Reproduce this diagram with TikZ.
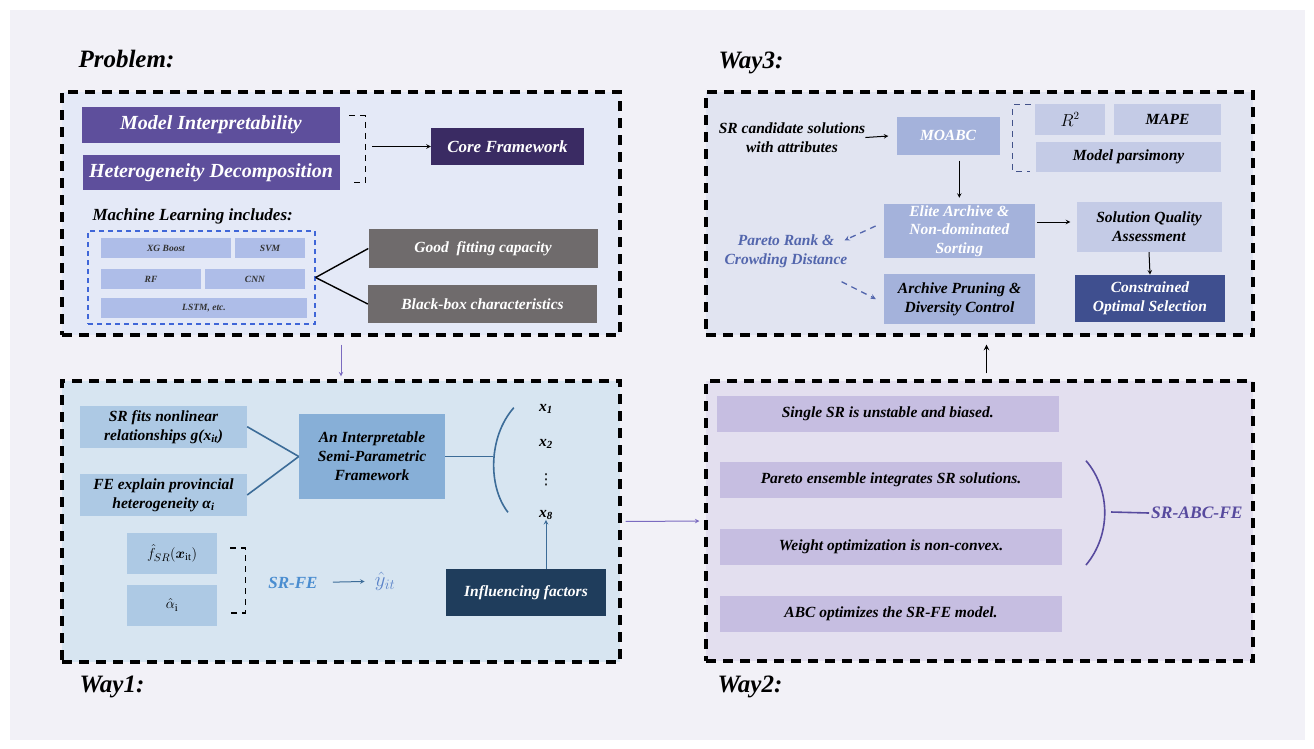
\documentclass[tikz,border=0pt]{standalone}
\usepackage{amsmath}
\usepackage{fontspec}
\setmainfont{Liberation Serif}
\newfontfamily\dotsfont{DejaVu Sans}
\usepackage{tikz}
\usetikzlibrary{arrows}

\definecolor{bgcol}{HTML}{F2F1F7}
\definecolor{probfill}{HTML}{E4E9F7}
\definecolor{wayonefill}{HTML}{D7E5F1}
\definecolor{waytwofill}{HTML}{E3DFEF}
\definecolor{waythreefill}{HTML}{E1E4F1}
\definecolor{purpleA}{HTML}{5E4F9C}
\definecolor{purpleB}{HTML}{3A2B63}
\definecolor{mlblue}{HTML}{AEBDE8}
\definecolor{mldash}{HTML}{3F66D8}
\definecolor{greybox}{HTML}{6F6B6C}
\definecolor{paleblue}{HTML}{ADC9E4}
\definecolor{midblue}{HTML}{87AFD7}
\definecolor{navy}{HTML}{1F3D5C}
\definecolor{steel}{HTML}{3C6C98}
\definecolor{srfeblue}{HTML}{4A8DD0}
\definecolor{yhatblue}{HTML}{5A82C8}
\definecolor{lilac}{HTML}{C6BEE1}
\definecolor{violet}{HTML}{574A9E}
\definecolor{periA}{HTML}{A4B2DB}
\definecolor{periB}{HTML}{C4CBE6}
\definecolor{periC}{HTML}{3F4F8F}
\definecolor{paretoblue}{HTML}{5366AD}
\definecolor{flowpurple}{HTML}{7B6BC0}

\tikzstyle{panel} = [draw=black, line width=3.2pt, dash pattern=on 10pt off 7pt, inner sep=0pt]
\tikzstyle{heading} = [anchor=base west, font=\fontsize{25}{28}\selectfont\bfseries\itshape]
\tikzstyle{box} = [rectangle, inner sep=0pt, align=center, font=\fontsize{15.5}{19}\selectfont\bfseries\itshape]
\tikzstyle{bigbox} = [box, fill=purpleA, text=white, font=\fontsize{20}{22}\selectfont\bfseries\itshape]
\tikzstyle{corebox} = [box, fill=purpleB, text=white, font=\fontsize{17}{20}\selectfont\bfseries\itshape]
\tikzstyle{mlbox} = [box, fill=mlblue, text=black!80, minimum height=20, font=\fontsize{9.5}{10}\selectfont\bfseries\itshape]
\tikzstyle{greyb} = [box, fill=greybox, text=white]
\tikzstyle{pale} = [box, fill=paleblue]
\tikzstyle{lilacbox} = [box, fill=lilac]
\tikzstyle{periwhite} = [box, fill=periA, text=white]
\tikzstyle{peri} = [box, fill=periB]
\tikzstyle{arrow} = [line width=1pt,->,>=stealth]
\tikzstyle{bkt} = [line width=1.1pt, dash pattern=on 6pt off 5pt]
\tikzstyle{dasharrow} = [line width=1.3pt,->,>=stealth, dash pattern=on 6pt off 5pt, paretoblue]

\begin{document}
\begin{tikzpicture}[x=1pt,y=-1pt]
\useasboundingbox (0,0) rectangle (1314,748);
\fill[bgcol] (10,10) rectangle (1305,740);

% panels
\node (prob) [panel, fill=probfill, minimum width=558, minimum height=243] at (341,213.5) {};
\node (wayone) [panel, fill=wayonefill, minimum width=558, minimum height=281] at (341,521.5) {};
\node (waytwo) [panel, fill=waytwofill, minimum width=547, minimum height=280] at (979.5,521) {};
\node (waythree) [panel, fill=waythreefill, minimum width=547, minimum height=243] at (979.5,213.5) {};

\node (tprob) [heading] at (75,67) {Problem:};
\node (tone) [heading] at (76,692) {Way1:};
\node (ttwo) [heading] at (714,692) {Way2:};
\node (tthree) [heading] at (715,68) {Way3:};

% Problem
\node (interp) [bigbox, minimum width=258, minimum height=36] at (211,125) {Model Interpretability};
\node (hetero) [bigbox, minimum width=257, minimum height=35] at (211,172.5) {Heterogeneity Decomposition};
\node (core) [corebox, minimum width=153, minimum height=37] at (507.5,146.5) {Core Framework};
\draw[bkt] ([shift={(9,9)}]interp.north east) -- ++(16,0) |- ([shift={(9,-8)}]hetero.south east);
\coordinate (coreout) at (372,146.5);
\draw[arrow] (coreout) -- (core.west);

\node (mlhead) [anchor=base west, font=\fontsize{17}{20}\selectfont\bfseries\itshape] at (89,220) {Machine Learning includes:};
\node (ml) [draw=mldash, line width=1.2pt, dash pattern=on 5pt off 4pt, minimum width=227, minimum height=93] at (201.5,277.5) {};
\node (xgb) [mlbox, minimum width=130] at (166,248) {XG Boost};
\node (svm) [mlbox, minimum width=70] at (270,248) {SVM};
\node (rf) [mlbox, minimum width=100] at (151,279) {RF};
\node (cnn) [mlbox, minimum width=100] at (255,279) {CNN};
\node (lstm) [mlbox, minimum width=206] at (204,308) {LSTM, etc.};
\node (good) [greyb, minimum width=229, minimum height=39] at (483,248.5) {Good~ fitting capacity};
\node (blackbox) [greyb, minimum width=229, minimum height=38] at (482.5,304) {Black-box characteristics};
\draw[line width=1.4pt] (ml.east) -- (good.west);
\draw[line width=1.4pt] (ml.east) -- (blackbox.west);

% Way1
\node (srfit) [pale, minimum width=167, minimum height=42] at (163.5,426.7) {SR fits nonlinear\\relationships g(x\textsubscript{it})};
\node (feexp) [pale, minimum width=167, minimum height=42] at (163.5,495) {FE explain provincial\\heterogeneity α\textsubscript{i}};
\node (frame) [box, fill=midblue, minimum width=146, minimum height=85] at (372,456.5) {An Interpretable\\Semi-Parametric\\Framework};
\draw[steel, line width=1.6pt] (srfit.east) -- (frame.west);
\draw[steel, line width=1.6pt] (feexp.east) -- (frame.west);
\coordinate (arctop) at (513.8,407.7);
\coordinate (arcbot) at (508,512.3);
\coordinate (arcmid) at (493,456.5);
\draw[steel, line width=1.6pt] (arctop) .. controls (488,437) and (488,487) .. (arcbot);
\draw[steel, line width=1.6pt] (frame.east) -- (arcmid);
\node (xone) [box] at (546,409) {x\textsubscript{1}};
\node (xtwo) [box] at (546,444) {x\textsubscript{2}};
\node (xdots) [box, font=\fontsize{15}{15}\selectfont\dotsfont] at (546,480) {⋮};
\node (xeight) [box] at (546,515) {x\textsubscript{8}};
\node (infl) [box, fill=navy, text=white, minimum width=160, minimum height=47] at (526,592.5) {Influencing factors};
\draw[arrow, steel] (infl.north -| xeight.south) -- (xeight.south);

\node (fhat) [pale, minimum width=90, minimum height=41] at (172,553.5) {\fontsize{15}{18}\selectfont$\hat{f}_{SR}(\boldsymbol{x}_{\mathrm{it}})$};
\node (ahat) [pale, minimum width=90, minimum height=41] at (172,605) {\fontsize{15}{18}\selectfont$\hat{\alpha}_{\mathrm{i}}$};
\draw[bkt] ([shift={(13,-5.5)}]fhat.east) -- ++(15,0) |- ([shift={(13,8)}]ahat.east);
\node (srfe) [box, text=srfeblue, font=\fontsize{17}{19}\selectfont\bfseries\itshape] at (293,583) {SR-FE};
\node (yhat) [box, text=yhatblue, font=\fontsize{21}{22}\selectfont] at (385,581) {$\hat{y}_{it}$};
\draw[arrow, steel, shorten <=15pt, shorten >=10pt] (srfe) -- (yhat);

% Way2
\node (single) [lilacbox, minimum width=342, minimum height=36] at (887.7,414) {Single SR is unstable and biased.};
\node (pareto) [lilacbox, minimum width=342, minimum height=36] at (891,480) {Pareto ensemble integrates SR solutions.};
\node (weight) [lilacbox, minimum width=342, minimum height=36] at (891,547) {Weight optimization is non-convex.};
\node (abc) [lilacbox, minimum width=342, minimum height=36] at (891,613.5) {ABC optimizes the SR-FE model.};
\coordinate (brtop) at (1086,460.7);
\coordinate (brbot) at (1086,565);
\coordinate (brmid) at (1111,512);
\draw[violet, line width=1.6pt] (brtop) .. controls (1111,490) and (1111,535) .. (brbot);
\node (srabc) [box, anchor=west, text=violet, font=\fontsize{17.5}{19}\selectfont\bfseries\itshape] at (1151,513) {SR-ABC-FE};
\draw[violet, line width=1.6pt] (brmid) -- ([xshift=-2pt]srabc.west);

% Way3
\node (cand) [box] at (792,137.5) {SR candidate solutions\\with attributes};
\node (moabc) [periwhite, minimum width=103, minimum height=38] at (948,135.5) {MOABC};
\draw[arrow, shorten >=8pt] (cand.east) -- (moabc.west);
\node (rsq) [peri, minimum width=70, minimum height=31, font=\fontsize{16}{18}\selectfont] at (1070,119.5) {$R^2$};
\node (mape) [peri, minimum width=107, minimum height=31] at (1167.5,119.5) {MAPE};
\node (pars) [peri, minimum width=185, minimum height=30] at (1128.5,157) {Model parsimony};
\draw[bkt, paretoblue!80!black] ([shift={(-4,1)}]rsq.north west) -- ++(-18,0) |- ([shift={(-6,-1)}]pars.south west);
\node (elite) [periwhite, minimum width=151, minimum height=54, font=\fontsize{15.5}{18.5}\selectfont\bfseries\itshape] at (959.3,231) {Elite Archive \&\\Non-dominated\\Sorting};
\draw[arrow, shorten <=6pt, shorten >=6pt] (moabc.south -| elite.north) -- (elite.north);
\node (sqa) [peri, minimum width=145, minimum height=50] at (1149,227) {Solution Quality\\Assessment};
\coordinate (eliteout) at ([yshift=9pt]elite.east);
\draw[arrow, shorten <=2pt, shorten >=6pt] (eliteout) -- (eliteout -| sqa.west);
\node (cos) [box, fill=periC, text=white, minimum width=150, minimum height=47] at (1150,298.3) {Constrained\\Optimal Selection};
\draw[arrow] (sqa.south) -- (cos.north);
\node (prune) [box, fill=periA, minimum width=151, minimum height=50] at (959.5,299) {Archive Pruning \&\\Diversity Control};
\node (rank) [box, text=paretoblue] at (786,251) {Pareto Rank \&\\Crowding Distance};
\draw[dasharrow] ([shift={(-8,-5)}]elite.west) -- ([shift={(-3,6)}]rank.north east);
\draw[dasharrow] ([shift={(-6,14)}]rank.south east) -- ([xshift=-8pt]prune.west);

% flow between panels
\draw[arrow, flowpurple, shorten <=8pt, shorten >=3pt] (prob.south) -- (wayone.north);
\draw[arrow, flowpurple, shorten <=4pt, shorten >=5pt] (wayone.east) -- (waytwo.west);
\draw[arrow, line width=1.5pt, shorten <=6pt, shorten >=8pt] ([xshift=7pt]waytwo.north) -- ([xshift=7pt]waythree.south);

\end{tikzpicture}
\end{document}
